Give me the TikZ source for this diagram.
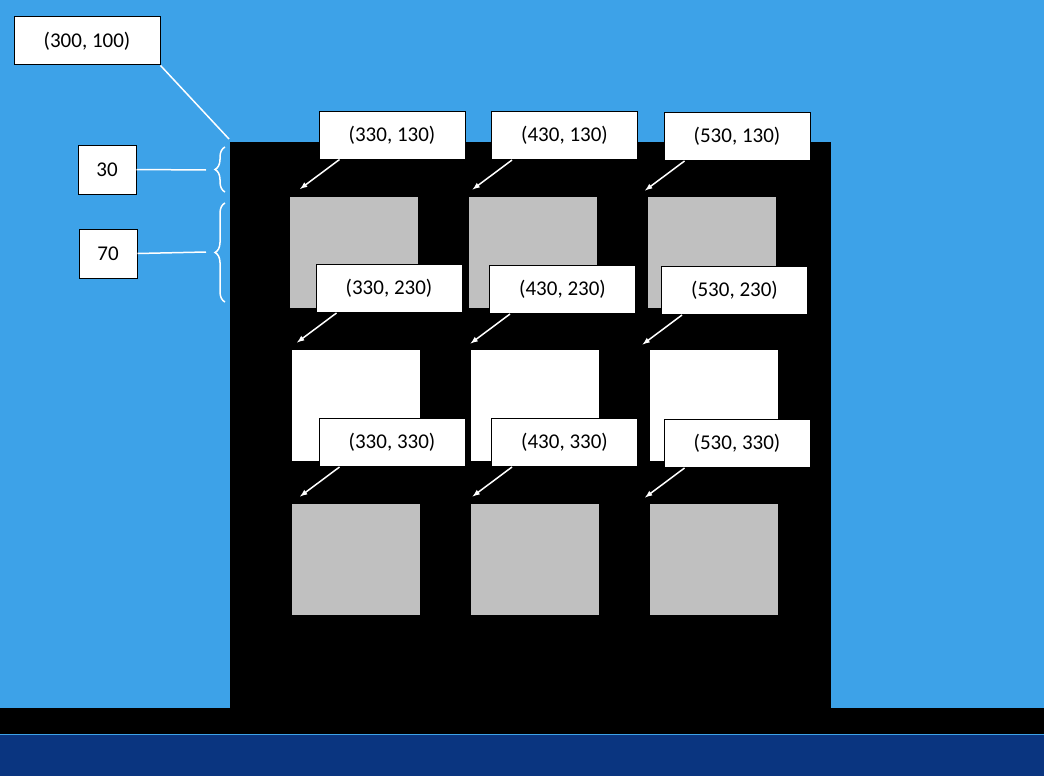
\documentclass[tikz,border=0pt]{standalone}
\usepackage{fontspec}
\setmainfont{Carlito}
\usetikzlibrary{decorations.pathreplacing,calc}
\definecolor{sky}{HTML}{3DA2E8}
\definecolor{ground}{HTML}{0A3580}
\definecolor{win}{HTML}{C0C0C0}
\begin{document}
\begin{tikzpicture}[x=1pt,y=-1pt,
  lbl/.style={draw=black,fill=white,line width=1pt,inner sep=0pt,font=\fontsize{21}{24}\selectfont},
  wl/.style={white,line width=1.5pt},
  arr/.style={white,line width=1.5pt,-latex}]
\fill[sky] (0,0) rectangle (1044,776);
\useasboundingbox (0,0) rectangle (1044,776);
\fill[black] (0,708) rectangle (1044,734);
\fill[ground] (0,735) rectangle (1044,776);
\fill[black] (230,142) rectangle (831,710);
% windows
\foreach \x in {290,469,648} \fill[win] (\x,197) rectangle ++(128,111);
\foreach \x in {292,471,650} \fill[white] (\x,350) rectangle ++(128,111);
\foreach \x in {292,471,650} \fill[win] (\x,504) rectangle ++(128,111);
% labels
\node[lbl,minimum width=146pt,minimum height=48pt] (o) at (87,41) {(300, 100)};
\coordinate (oc) at (229,139);
\draw[wl] (o.south east) -- (oc);
\node[lbl,minimum width=58pt,minimum height=49pt] (t) at (107,169.5) {30};
\node[lbl,minimum width=58pt,minimum height=49pt] (s) at (108,253.5) {70};
\draw[wl,decorate,decoration={brace,amplitude=10pt,raise=0pt}] (225,192) -- (225,147);
\draw[wl,decorate,decoration={brace,amplitude=10pt,raise=0pt}] (225,302) -- (225,203);
\coordinate (tb) at (206,170); \coordinate (sb) at (206,252);
\draw[wl] (t.east) -- (tb);
\draw[wl] (s.east) -- (sb);
% coordinate labels
\foreach \lx/\ly/\txt/\n in {392/135/{(330, 130)}/a1,564.5/135.5/{(430, 130)}/a2,737/136.5/{(530, 130)}/a3,
  389/288.5/{(330, 230)}/b1,562.5/289.5/{(430, 230)}/b2,734.5/290.5/{(530, 230)}/b3,
  392/442.5/{(330, 330)}/c1,564.5/442.5/{(430, 330)}/c2,737/443.5/{(530, 330)}/c3}{
  \node[lbl,minimum width=146pt,minimum height=48pt] (\n) at (\lx,\ly) {\txt};
  \coordinate (\n t) at ($(\lx,\ly)+(-92,54)$);
  \draw[arr] ($(\n.south west)+(21,0)$) -- (\n t);
}
\end{tikzpicture}
\end{document}
